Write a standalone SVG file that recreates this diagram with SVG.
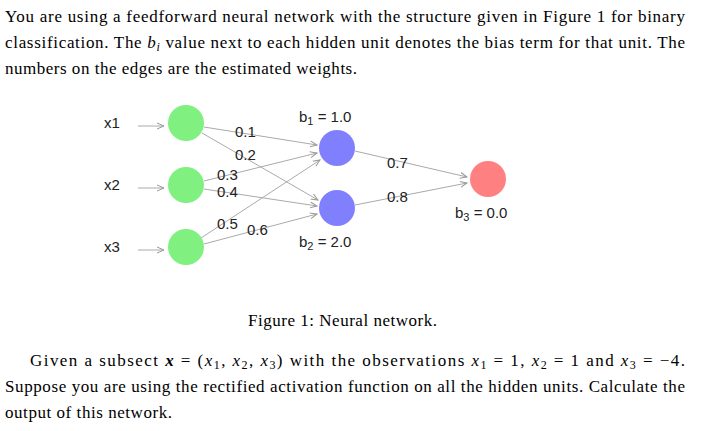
<svg xmlns="http://www.w3.org/2000/svg" width="703" height="431" viewBox="0 0 703 431">
<style>
.t{font-family:"Liberation Serif",serif;font-size:17px;fill:#000}
.s{font-family:"Liberation Sans",Arial,sans-serif;font-size:15px;fill:#222}
.e{stroke:#aaa;stroke-width:1;fill:none;marker-end:url(#a)}
</style>
<defs><marker id="a" markerWidth="8" markerHeight="8" refX="7" refY="4" orient="auto" markerUnits="userSpaceOnUse"><path d="M0,1 L7,4 L0,7" fill="none" stroke="#999" stroke-width="1"/></marker></defs>
<rect width="703" height="431" fill="#fff"/>
<text class="t" x="5" y="22" textLength="680" lengthAdjust="spacing">You are using a feedforward neural network with the structure given in Figure 1 for binary</text>
<text class="t" x="5" y="48" textLength="680" lengthAdjust="spacing">classification. The <tspan font-style="italic">b</tspan><tspan font-style="italic" font-size="12" dy="3">i</tspan><tspan dy="-3"> value next to each hidden unit denotes the bias term for that unit. The</tspan></text>
<text class="t" x="5" y="74" textLength="352" lengthAdjust="spacing">numbers on the edges are the estimated weights.</text>
<g id="connectors">
<path class="e" d="M138,126 L164,126"/>
<path class="e" d="M138,188 L164,188"/>
<path class="e" d="M138,250 L164,250"/>
<path class="e" d="M204,127 L317,145"/>
<path class="e" d="M202,133 L318,200"/>
<path class="e" d="M204,181 L317,153"/>
<path class="e" d="M204,189 L317,206"/>
<path class="e" d="M201,238 L320,160"/>
<path class="e" d="M204,244 L317,214"/>
<path class="e" d="M355,151 L467,177"/>
<path class="e" d="M355,205 L467,183"/>
</g>
<g id="n_x1"><text class="s" x="104" y="128">x1</text><circle cx="186" cy="123" r="18" fill="#80f080"/></g>
<g id="n_x2"><text class="s" x="104" y="190">x2</text><circle cx="186" cy="185" r="18" fill="#80f080"/></g>
<g id="n_x3"><text class="s" x="104" y="252">x3</text><circle cx="186" cy="247" r="18" fill="#80f080"/></g>
<g id="n_h1"><circle cx="337" cy="148" r="18" fill="#8080ff"/><text class="s" x="299" y="122">b<tspan font-size="11" dy="3">1</tspan><tspan dy="-3"> = 1.0</tspan></text></g>
<g id="n_h2"><circle cx="337" cy="208" r="18" fill="#8080ff"/><text class="s" x="299" y="247">b<tspan font-size="11" dy="3">2</tspan><tspan dy="-3"> = 2.0</tspan></text></g>
<g id="n_o"><circle cx="488" cy="179" r="18" fill="#ff8080"/><text class="s" x="455" y="218">b<tspan font-size="11" dy="3">3</tspan><tspan dy="-3"> = 0.0</tspan></text></g>
<g id="weights">
<text class="s" x="235" y="137">0.1</text>
<text class="s" x="235" y="160">0.2</text>
<text class="s" x="217" y="180">0.3</text>
<text class="s" x="217" y="197">0.4</text>
<text class="s" x="217" y="229">0.5</text>
<text class="s" x="247" y="235">0.6</text>
<text class="s" x="387" y="168">0.7</text>
<text class="s" x="387" y="202">0.8</text>
</g>
<text class="t" x="248" y="326" textLength="189" lengthAdjust="spacing">Figure 1: Neural network.</text>
<text class="t" x="30" y="366" textLength="655" lengthAdjust="spacing">Given a subsect <tspan font-style="italic" font-weight="bold">x</tspan> = (<tspan font-style="italic">x</tspan><tspan font-size="12" dy="3">1</tspan><tspan dy="-3">, </tspan><tspan font-style="italic">x</tspan><tspan font-size="12" dy="3">2</tspan><tspan dy="-3">, </tspan><tspan font-style="italic">x</tspan><tspan font-size="12" dy="3">3</tspan><tspan dy="-3">) with the observations </tspan><tspan font-style="italic">x</tspan><tspan font-size="12" dy="3">1</tspan><tspan dy="-3"> = 1, </tspan><tspan font-style="italic">x</tspan><tspan font-size="12" dy="3">2</tspan><tspan dy="-3"> = 1 and </tspan><tspan font-style="italic">x</tspan><tspan font-size="12" dy="3">3</tspan><tspan dy="-3"> = −4.</tspan></text>
<text class="t" x="5" y="392" textLength="680" lengthAdjust="spacing">Suppose you are using the rectified activation function on all the hidden units. Calculate the</text>
<text class="t" x="5" y="418" textLength="167" lengthAdjust="spacing">output of this network.</text>
</svg>
